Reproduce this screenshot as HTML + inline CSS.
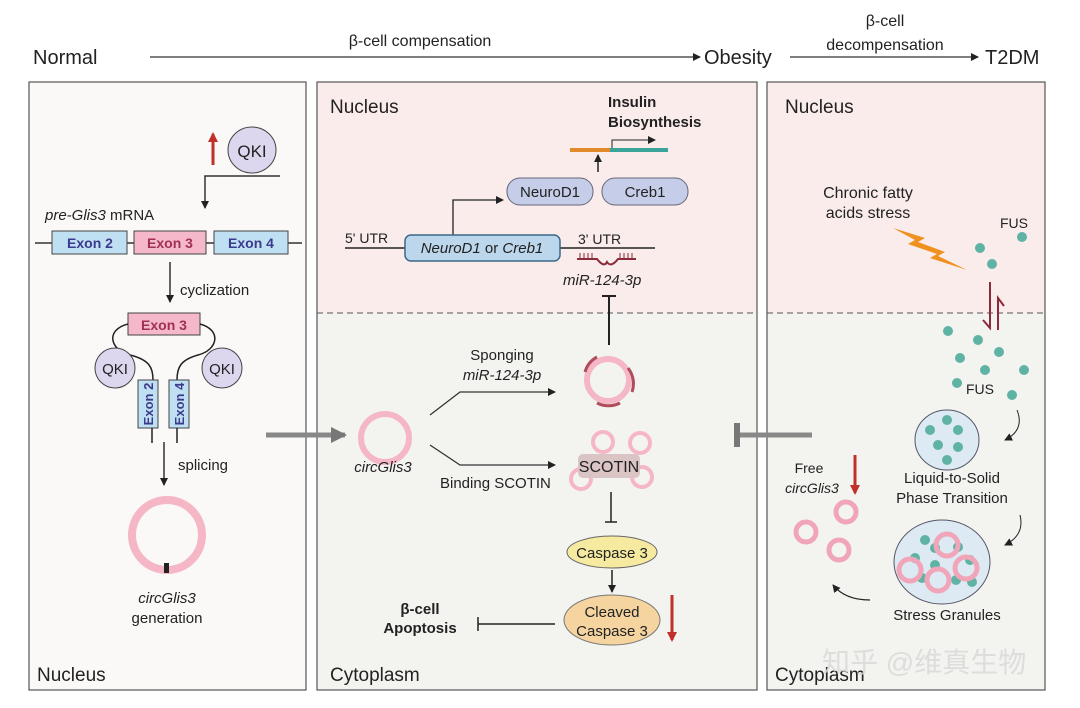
<!DOCTYPE html>
<html><head><meta charset="utf-8"><style>
html,body{margin:0;padding:0;background:#fff}
svg{display:block}
text{font-family:"Liberation Sans","Noto Sans CJK SC",sans-serif;fill:#222}
</style></head><body>
<svg width="1080" height="708" viewBox="0 0 1080 708" xmlns="http://www.w3.org/2000/svg">
<defs>
<marker id="ah" markerWidth="8" markerHeight="8" refX="7" refY="4" orient="auto" markerUnits="userSpaceOnUse"><path d="M0,0 L8,4 L0,8 z" fill="#222"/></marker>
<marker id="ahr" markerWidth="10" markerHeight="10" refX="8" refY="5" orient="auto" markerUnits="userSpaceOnUse"><path d="M0,0 L10,5 L0,10 z" fill="#c0302a"/></marker>
<marker id="ahg" markerWidth="16" markerHeight="16" refX="14" refY="8" orient="auto" markerUnits="userSpaceOnUse"><path d="M0,0 L16,8 L0,16 z" fill="#777"/></marker>
</defs>
<rect width="1080" height="708" fill="#fff"/>
<!-- top -->
<text x="33" y="64" font-size="20">Normal</text>
<line x1="150" y1="57" x2="700" y2="57" stroke="#333" stroke-width="1.2" marker-end="url(#ah)"/>
<text x="420" y="46" font-size="16" text-anchor="middle">β-cell compensation</text>
<text x="704" y="64" font-size="20">Obesity</text>
<line x1="790" y1="57" x2="978" y2="57" stroke="#333" stroke-width="1.2" marker-end="url(#ah)"/>
<text x="885" y="26" font-size="16" text-anchor="middle">β-cell</text>
<text x="885" y="50" font-size="16" text-anchor="middle">decompensation</text>
<text x="985" y="64" font-size="20">T2DM</text>

<!-- panels -->
<rect x="29" y="82" width="277" height="608" fill="#faf9f8" stroke="#555" stroke-width="1.2"/>
<rect x="317" y="82" width="440" height="231" fill="#fbecec"/>
<rect x="317" y="313" width="440" height="377" fill="#f3f4f0"/>
<rect x="317" y="82" width="440" height="608" fill="none" stroke="#555" stroke-width="1.2"/>
<rect x="767" y="82" width="278" height="231" fill="#fbecec"/>
<rect x="767" y="313" width="278" height="377" fill="#f3f4f0"/>
<rect x="767" y="82" width="278" height="608" fill="none" stroke="#555" stroke-width="1.2"/>
<line x1="317" y1="313" x2="757" y2="313" stroke="#555" stroke-dasharray="6,4"/>
<line x1="767" y1="313" x2="1045" y2="313" stroke="#555" stroke-dasharray="6,4"/>

<!-- left panel -->
<line x1="213" y1="165" x2="213" y2="134" stroke="#c0302a" stroke-width="3" marker-end="url(#ahr)"/>
<ellipse cx="252" cy="150" rx="24" ry="23" fill="#dcd6ef" stroke="#444"/>
<text x="252" y="157" font-size="17" text-anchor="middle">QKI</text>
<polyline points="280,176 205,176 205,208" fill="none" stroke="#333" stroke-width="1.5" marker-end="url(#ah)"/>
<text x="45" y="220" font-size="15"><tspan font-style="italic">pre-Glis3</tspan> mRNA</text>
<line x1="35" y1="243" x2="302" y2="243" stroke="#333" stroke-width="1.5"/>
<rect x="52" y="231" width="75" height="23" fill="#bfe0f2" stroke="#444"/>
<text x="90" y="248" font-size="14" font-weight="bold" fill="#3c3a8c" text-anchor="middle" style="fill:#3c3a8c">Exon 2</text>
<rect x="134" y="231" width="72" height="23" fill="#f5b8cb" stroke="#444"/>
<text x="170" y="248" font-size="14" font-weight="bold" text-anchor="middle" style="fill:#a03055">Exon 3</text>
<rect x="214" y="231" width="74" height="23" fill="#bfe0f2" stroke="#444"/>
<text x="251" y="248" font-size="14" font-weight="bold" text-anchor="middle" style="fill:#3c3a8c">Exon 4</text>
<line x1="170" y1="262" x2="170" y2="302" stroke="#333" stroke-width="1.5" marker-end="url(#ah)"/>
<text x="180" y="295" font-size="15">cyclization</text>
<rect x="128" y="313" width="72" height="22" fill="#f5b8cb" stroke="#444"/>
<text x="164" y="330" font-size="14" font-weight="bold" text-anchor="middle" style="fill:#a03055">Exon 3</text>
<path d="M128,324 C105,330 110,350 130,355 C150,360 153,368 153,380" fill="none" stroke="#222" stroke-width="1.5"/>
<path d="M200,324 C222,330 218,350 198,355 C180,360 177,368 177,380" fill="none" stroke="#222" stroke-width="1.5"/>
<circle cx="115" cy="368" r="20" fill="#dcd6ef" stroke="#444"/>
<text x="115" y="374" font-size="15" text-anchor="middle">QKI</text>
<circle cx="222" cy="368" r="20" fill="#dcd6ef" stroke="#444"/>
<text x="222" y="374" font-size="15" text-anchor="middle">QKI</text>
<rect x="138" y="380" width="20" height="48" fill="#bfe0f2" stroke="#444"/>
<text transform="translate(153,404) rotate(-90)" font-size="13" font-weight="bold" text-anchor="middle" style="fill:#3c3a8c">Exon 2</text>
<rect x="169" y="380" width="20" height="48" fill="#bfe0f2" stroke="#444"/>
<text transform="translate(184,404) rotate(-90)" font-size="13" font-weight="bold" text-anchor="middle" style="fill:#3c3a8c">Exon 4</text>
<line x1="152" y1="428" x2="152" y2="443" stroke="#222" stroke-width="1.5"/>
<line x1="177" y1="428" x2="177" y2="443" stroke="#222" stroke-width="1.5"/>
<line x1="164" y1="442" x2="164" y2="485" stroke="#333" stroke-width="1.5" marker-end="url(#ah)"/>
<text x="178" y="470" font-size="15">splicing</text>
<circle cx="167" cy="535" r="35" fill="none" stroke="#f5b7c6" stroke-width="8"/>
<rect x="164" y="563" width="5" height="10" fill="#222"/>
<text x="167" y="603" font-size="15" font-style="italic" text-anchor="middle">circGlis3</text>
<text x="167" y="623" font-size="15" text-anchor="middle">generation</text>
<text x="37" y="681" font-size="19">Nucleus</text>

<!-- gray arrows -->
<line x1="266" y1="435" x2="345" y2="435" stroke="#888" stroke-width="5" marker-end="url(#ahg)"/>
<line x1="812" y1="435" x2="737" y2="435" stroke="#888" stroke-width="5"/>
<line x1="737" y1="423" x2="737" y2="447" stroke="#777" stroke-width="6"/>

<!-- middle panel -->
<text x="330" y="113" font-size="19">Nucleus</text>
<text x="608" y="107" font-size="15" font-weight="bold">Insulin</text>
<text x="608" y="127" font-size="15" font-weight="bold">Biosynthesis</text>
<line x1="570" y1="150" x2="610" y2="150" stroke="#e08a2c" stroke-width="4"/>
<line x1="610" y1="150" x2="668" y2="150" stroke="#3aa39a" stroke-width="4"/>
<polyline points="612,148 612,140 655,140" fill="none" stroke="#222" stroke-width="1" marker-end="url(#ah)"/>
<line x1="598" y1="172" x2="598" y2="155" stroke="#222" stroke-width="1.5" marker-end="url(#ah)"/>
<rect x="507" y="178" width="86" height="27" rx="13" fill="#c6cde8" stroke="#667"/>
<text x="550" y="197" font-size="15" text-anchor="middle">NeuroD1</text>
<rect x="602" y="178" width="86" height="27" rx="13" fill="#c6cde8" stroke="#667"/>
<text x="645" y="197" font-size="15" text-anchor="middle">Creb1</text>
<polyline points="453,235 453,200 503,200" fill="none" stroke="#222" stroke-width="1.3" marker-end="url(#ah)"/>
<line x1="345" y1="248" x2="655" y2="248" stroke="#222" stroke-width="1.5"/>
<text x="345" y="243" font-size="14">5' UTR</text>
<text x="578" y="244" font-size="14">3' UTR</text>
<rect x="405" y="235" width="155" height="26" rx="6" fill="#bcd6ec" stroke="#3a6a8a" stroke-width="1.5"/>
<text x="482" y="253" font-size="15" text-anchor="middle"><tspan font-style="italic">NeuroD1</tspan> or <tspan font-style="italic">Creb1</tspan></text>
<path d="M577,259 L597,259 Q604,268 607,262 Q611,268 618,259 L636,259" fill="none" stroke="#8a2a3a" stroke-width="2"/>
<g stroke="#8a2a3a" stroke-width="1"><line x1="580" y1="253" x2="580" y2="259"/><line x1="584" y1="253" x2="584" y2="259"/><line x1="588" y1="253" x2="588" y2="259"/><line x1="592" y1="253" x2="592" y2="259"/><line x1="620" y1="253" x2="620" y2="259"/><line x1="624" y1="253" x2="624" y2="259"/><line x1="628" y1="253" x2="628" y2="259"/><line x1="632" y1="253" x2="632" y2="259"/></g>
<text x="563" y="285" font-size="15" font-style="italic">miR-124-3p</text>
<line x1="609" y1="345" x2="609" y2="296" stroke="#222" stroke-width="2"/>
<line x1="602" y1="296" x2="616" y2="296" stroke="#222" stroke-width="2"/>
<text x="502" y="360" font-size="15" text-anchor="middle">Sponging</text>
<text x="502" y="380" font-size="15" font-style="italic" text-anchor="middle">miR-124-3p</text>
<polyline points="430,415 460,392 555,392" fill="none" stroke="#333" stroke-width="1.3" marker-end="url(#ah)"/>
<polyline points="430,445 460,465 555,465" fill="none" stroke="#333" stroke-width="1.3" marker-end="url(#ah)"/>
<circle cx="608" cy="380" r="21" fill="none" stroke="#f5b7c6" stroke-width="6"/>
<path d="M585,372 A25,25 0 0 1 597,357" fill="none" stroke="#b04c5c" stroke-width="3"/>
<path d="M628,368 A25,25 0 0 1 632,392" fill="none" stroke="#b04c5c" stroke-width="3"/>
<path d="M597,403 A25,25 0 0 0 620,403" fill="none" stroke="#b04c5c" stroke-width="3"/>
<circle cx="385" cy="438" r="24" fill="none" stroke="#f5b7c6" stroke-width="6"/>
<text x="383" y="472" font-size="15" font-style="italic" text-anchor="middle">circGlis3</text>
<text x="440" y="488" font-size="15">Binding SCOTIN</text>
<g fill="none" stroke="#f5b7c6" stroke-width="4">
<circle cx="603" cy="442" r="10"/><circle cx="640" cy="443" r="10"/><circle cx="581" cy="479" r="10"/><circle cx="642" cy="477" r="10"/></g>
<rect x="578" y="454" width="62" height="24" rx="5" fill="#dbc4c4"/>
<text x="609" y="472" font-size="16" text-anchor="middle">SCOTIN</text>
<line x1="611" y1="492" x2="611" y2="522" stroke="#222" stroke-width="1.5"/>
<line x1="605" y1="522" x2="617" y2="522" stroke="#222" stroke-width="1.5"/>
<ellipse cx="612" cy="552" rx="45" ry="16" fill="#f6eaa0" stroke="#666"/>
<text x="612" y="558" font-size="15" text-anchor="middle">Caspase 3</text>
<line x1="612" y1="570" x2="612" y2="592" stroke="#222" stroke-width="1.5" marker-end="url(#ah)"/>
<ellipse cx="612" cy="620" rx="48" ry="25" fill="#f5d4a0" stroke="#777"/>
<text x="612" y="617" font-size="15" text-anchor="middle">Cleaved</text>
<text x="612" y="636" font-size="15" text-anchor="middle">Caspase 3</text>
<line x1="672" y1="595" x2="672" y2="640" stroke="#c0302a" stroke-width="3" marker-end="url(#ahr)"/>
<text x="420" y="614" font-size="15" font-weight="bold" text-anchor="middle">β-cell</text>
<text x="420" y="633" font-size="15" font-weight="bold" text-anchor="middle">Apoptosis</text>
<line x1="555" y1="624" x2="478" y2="624" stroke="#222" stroke-width="1.5"/>
<line x1="478" y1="617" x2="478" y2="631" stroke="#222" stroke-width="1.5"/>
<text x="330" y="681" font-size="19">Cytoplasm</text>

<!-- right panel -->
<text x="785" y="113" font-size="19">Nucleus</text>
<text x="868" y="198" font-size="16" text-anchor="middle">Chronic fatty</text>
<text x="868" y="218" font-size="16" text-anchor="middle">acids stress</text>
<path d="M893,228 L925,238 L918,242 L945,252 L938,256 L967,270 L930,258 L937,254 L908,244 L915,240 Z" fill="#f0901e"/>
<text x="1000" y="228" font-size="14">FUS</text>
<g fill="#5fb3a5">
<circle cx="1022" cy="237" r="5"/><circle cx="980" cy="248" r="5"/><circle cx="992" cy="264" r="5"/>
<circle cx="948" cy="331" r="5"/><circle cx="978" cy="340" r="5"/><circle cx="999" cy="352" r="5"/><circle cx="960" cy="358" r="5"/><circle cx="985" cy="370" r="5"/><circle cx="1024" cy="370" r="5"/><circle cx="957" cy="383" r="5"/><circle cx="1012" cy="395" r="5"/>
</g>
<path d="M990,282 L990,328 L983,320" fill="none" stroke="#8a2a3a" stroke-width="2"/>
<path d="M998,330 L998,298 L1004,306" fill="none" stroke="#8a2a3a" stroke-width="2"/>
<text x="966" y="394" font-size="14">FUS</text>
<path d="M1017,410 Q1025,430 1005,440" fill="none" stroke="#222" stroke-width="1" marker-end="url(#ah)"/>
<ellipse cx="947" cy="440" rx="32" ry="30" fill="#dde9f3" stroke="#556"/>
<g fill="#5fb3a5"><circle cx="947" cy="420" r="5"/><circle cx="930" cy="430" r="5"/><circle cx="958" cy="430" r="5"/><circle cx="938" cy="445" r="5"/><circle cx="958" cy="447" r="5"/><circle cx="947" cy="460" r="5"/></g>
<text x="952" y="483" font-size="15" text-anchor="middle">Liquid-to-Solid</text>
<text x="952" y="503" font-size="15" text-anchor="middle">Phase Transition</text>
<path d="M1020,515 Q1025,535 1005,545" fill="none" stroke="#222" stroke-width="1" marker-end="url(#ah)"/>
<ellipse cx="942" cy="562" rx="48" ry="42" fill="#dde9f3" stroke="#556"/>
<g fill="#5fb3a5"><circle cx="925" cy="540" r="5"/><circle cx="935" cy="548" r="5"/><circle cx="958" cy="547" r="5"/><circle cx="915" cy="558" r="5"/><circle cx="935" cy="565" r="5"/><circle cx="970" cy="560" r="5"/><circle cx="922" cy="578" r="5"/><circle cx="956" cy="580" r="5"/><circle cx="972" cy="582" r="5"/></g>
<g fill="none" stroke="#f0a6b8" stroke-width="5">
<circle cx="947" cy="545" r="11"/><circle cx="910" cy="570" r="11"/><circle cx="938" cy="580" r="11"/><circle cx="966" cy="568" r="11"/></g>
<text x="947" y="620" font-size="15" text-anchor="middle">Stress Granules</text>
<path d="M870,600 Q845,600 833,585" fill="none" stroke="#222" stroke-width="1.2" marker-end="url(#ah)"/>
<text x="809" y="473" font-size="14" text-anchor="middle">Free</text>
<text x="812" y="493" font-size="14" font-style="italic" text-anchor="middle">circGlis3</text>
<line x1="855" y1="455" x2="855" y2="493" stroke="#c0302a" stroke-width="3" marker-end="url(#ahr)"/>
<g fill="none" stroke="#f0a6b8" stroke-width="5">
<circle cx="846" cy="512" r="10"/><circle cx="806" cy="532" r="10"/><circle cx="839" cy="550" r="10"/></g>
<text x="775" y="681" font-size="19">Cytoplasm</text>
<text x="822" y="672" font-size="28" style="fill:#d8d8d8;fill-opacity:0.85">知乎 @维真生物</text>
</svg>
</body></html>
